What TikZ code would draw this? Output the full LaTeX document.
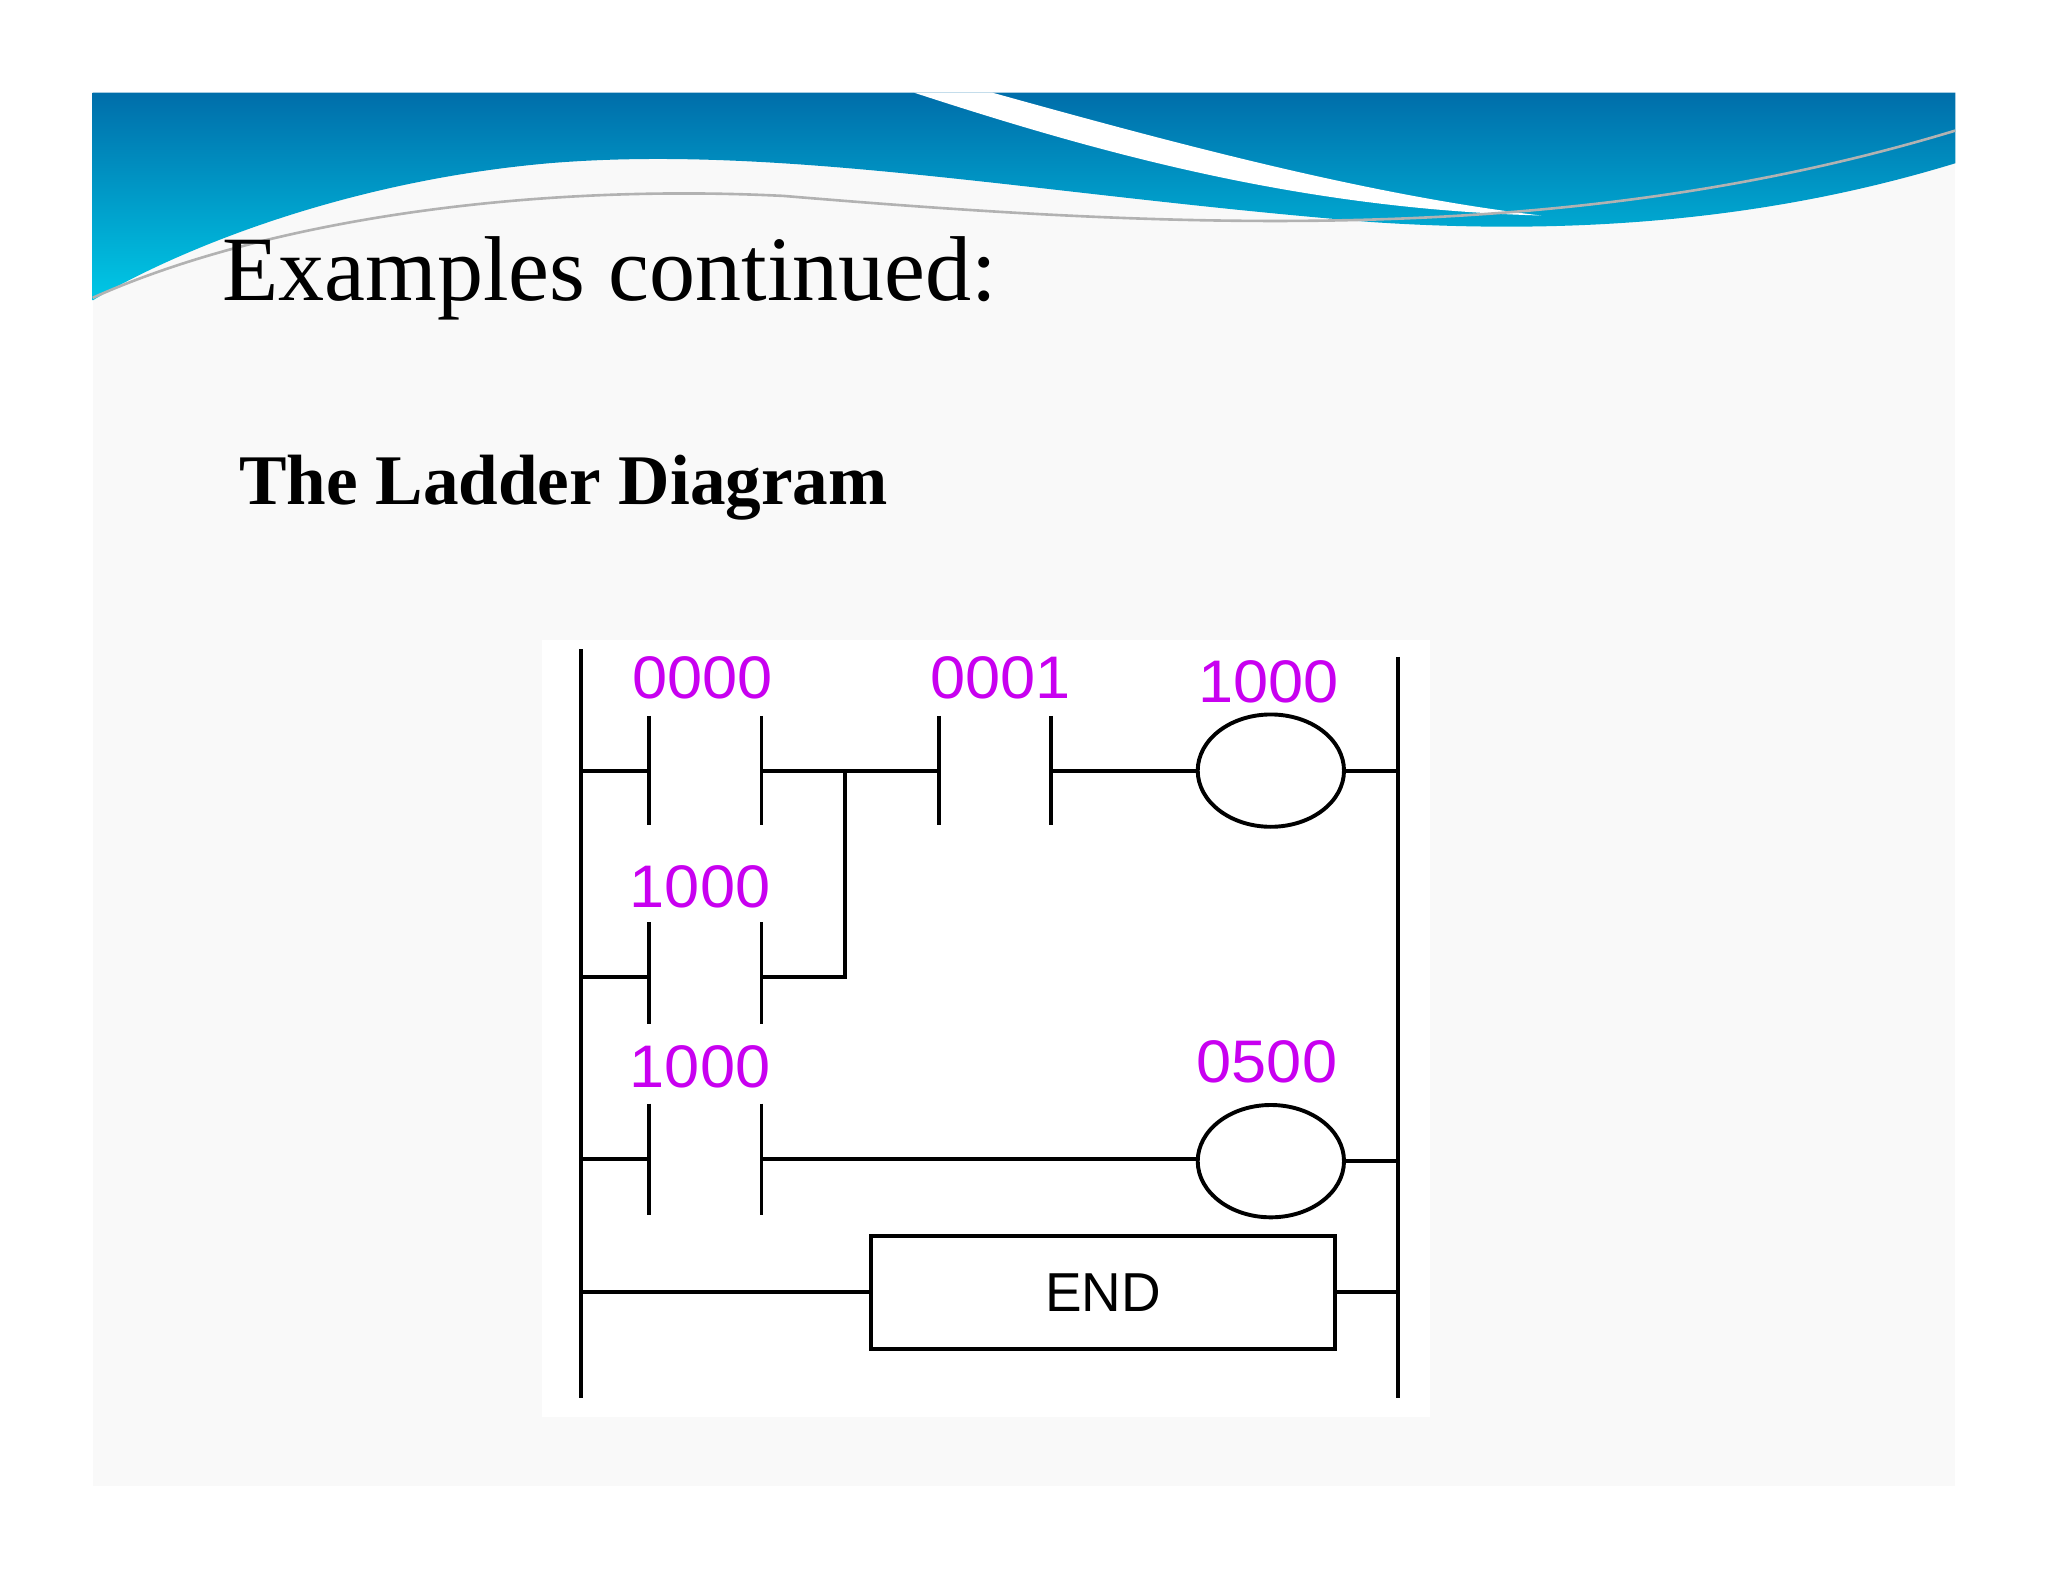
\documentclass[tikz,border=0pt]{standalone}
\usepackage{fontspec}
\usetikzlibrary{shapes.geometric}
\setmainfont{Liberation Serif}
\newfontfamily\lbl{Liberation Sans}
\definecolor{labc}{RGB}{200,0,240}
\definecolor{hdtop}{RGB}{0,110,170}
\definecolor{hdbot}{RGB}{0,200,230}
\begin{document}
\begin{tikzpicture}[x=1pt,y=-1pt,
  wire/.style={line width=3pt},
  lab/.style={text=labc,font=\lbl\fontsize{46}{46}\selectfont,inner sep=0pt,xscale=1.05},
  coil/.style={draw,line width=3pt,ellipse,minimum width=112pt,minimum height=86pt,inner sep=0pt}]
\useasboundingbox (0,0) rectangle (1568,1211);
\fill[white] (0,0) rectangle (1568,1211);
\fill[gray!5] (71,71) rectangle (1497,1138);
% header
\shade[top color=hdtop, bottom color=hdbot]
 (71,71) -- (1497,71) -- (1497,125) .. controls (1350,170) and (1200,180) .. (1050,170)
 .. controls (800,150) and (600,110) .. (420,125) .. controls (250,140) and (120,200) .. (71,230) -- cycle;
\fill[white] (700,71) -- (760,71) .. controls (900,110) and (1050,150) .. (1180,165)
 .. controls (1000,160) and (850,120) .. (700,71) -- cycle;
\draw[gray!60,line width=2pt] (71,228) .. controls (200,170) and (400,140) .. (600,150)
 .. controls (900,175) and (1200,190) .. (1497,100);
\node[anchor=base west,inner sep=0pt,font=\fontsize{70.5}{70.5}\selectfont] (t) at (170,230) {Examples continued:};
\node[anchor=base west,inner sep=0pt,font=\fontsize{54.5}{54.5}\selectfont\bfseries] (s) at (183,386) {The Ladder Diagram};
\fill[white] (415,490) rectangle (1095,1085);
% rails
\coordinate (L0) at (445,497); \coordinate (L1) at (445,1070);
\coordinate (R0) at (1070,503); \coordinate (R1) at (1070,1070);
\draw[wire] (L0)--(L1); \draw[wire] (R0)--(R1);
% rung 1
\draw[wire] (445,590)--(497,590) (497,548)--(497,632) (583,548)--(583,632)
 (583,590)--(719,590) (719,548)--(719,632) (805,548)--(805,632) (805,590)--(917,590);
\node[coil] (c1) at (973,590) {};
\draw[wire] (c1.east)--(1070,590);
% rung 2 branch
\draw[wire] (647,590)--(647,748)--(583,748) (445,748)--(497,748) (497,706)--(497,784) (583,706)--(583,784);
% rung 3
\draw[wire] (445,887)--(497,887) (497,845)--(497,930) (583,845)--(583,930) (583,887)--(917,887);
\node[coil] (c2) at (973,889) {};
\draw[wire] (c2.east)--(1070,889);
% rung 4
\node[draw,line width=3pt,minimum width=355pt,minimum height=87pt,inner sep=0pt,font=\lbl\fontsize{42}{42}\selectfont] (e) at (844.5,989.5) {END};
\draw[wire] (445,989.5)--(e.west) (e.east)--(1070,989.5);
% labels
\node[lab] (l1) at (538,519) {0000};
\node[lab] (l2) at (766,519) {0001};
\node[lab] (l3) at (971,522) {1000};
\node[lab] (l4) at (536,679) {1000};
\node[lab] (l5) at (536,817) {1000};
\node[lab] (l6) at (970,813) {0500};
\end{tikzpicture}
\end{document}
